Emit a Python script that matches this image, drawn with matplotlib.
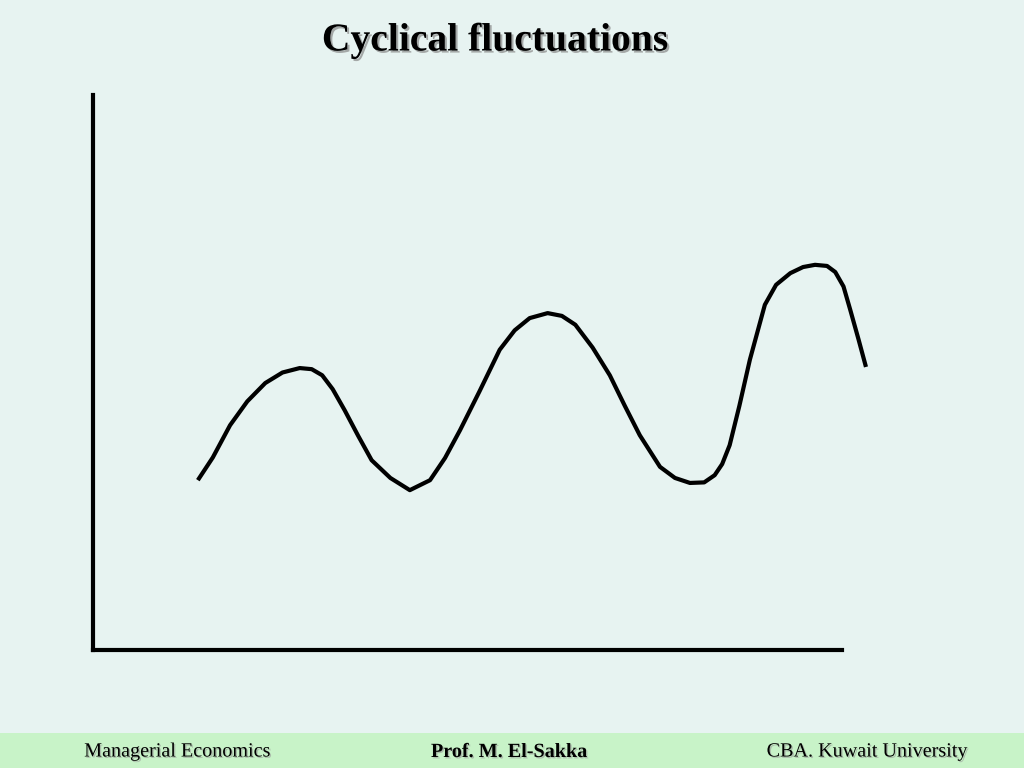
import matplotlib.pyplot as plt
import matplotlib.patheffects as pe
from matplotlib.patches import Rectangle

# curve (x, y in percent of the axis box)
cycle_x = [14.0, 16.0, 18.3, 20.6, 23.0, 25.3, 27.6, 29.2, 30.6, 32.0, 33.6, 35.4,
           37.2, 39.7, 42.3, 45.0, 47.0, 49.0, 51.6, 54.3, 56.3, 58.3, 60.7, 62.6,
           64.4, 66.7, 69.0, 71.0, 73.0, 75.7, 77.7, 79.7, 81.6, 83.0, 84.0, 85.0,
           86.3, 87.7, 89.7, 91.2, 93.1, 94.8, 96.4, 98.0, 99.1, 100.2, 101.1, 102.2, 103.2]
cycle_y = [30.6, 34.7, 40.5, 44.8, 48.1, 50.0, 50.8, 50.6, 49.5, 47.0, 43.2, 38.6,
           34.2, 31.0, 28.8, 30.6, 34.6, 39.6, 46.6, 54.1, 57.6, 59.8, 60.7, 60.2,
           58.6, 54.5, 49.5, 44.0, 38.7, 33.0, 31.0, 30.1, 30.2, 31.5, 33.5, 36.9,
           44.0, 52.3, 62.2, 65.8, 67.9, 69.0, 69.4, 69.2, 68.1, 65.5, 61.3, 56.0, 51.0]

title = "Cyclical fluctuations"
footer_left = "Managerial Economics"
footer_mid = "Prof. M. El-Sakka"
footer_right = "CBA. Kuwait University"

bg = "#e7f3f1"
band = "#c8f3c8"

fig = plt.figure(figsize=(10.24, 7.68), dpi=100)
fig.patch.set_facecolor(bg)

# footer band
fig.patches.append(Rectangle((0, 0), 1, 35 / 768, transform=fig.transFigure,
                             facecolor=band, edgecolor="none", zorder=0))

ax = fig.add_axes([93 / 1024, 118 / 768, 749 / 1024, 555 / 768])
ax.set_facecolor("none")
ax.plot(cycle_x, cycle_y, color="black", lw=3, solid_joinstyle="round",
        solid_capstyle="butt", clip_on=False)
ax.set_xlim(0, 100)
ax.set_ylim(0, 100)
for side in ["top", "right"]:
    ax.spines[side].set_visible(False)
for side in ["left", "bottom"]:
    ax.spines[side].set_linewidth(3)
ax.set_xticks([])
ax.set_yticks([])

shadow = [pe.SimplePatchShadow(offset=(1.5, -1.5), shadow_rgbFace="#888888", alpha=0.7), pe.Normal()]
fig.text(495 / 1024, 1 - 41 / 768, title, ha="center", va="center",
         family="Liberation Serif", fontweight="bold", fontsize=28.5, path_effects=shadow)

small_shadow = [pe.SimplePatchShadow(offset=(1, -1), shadow_rgbFace="#999999", alpha=0.6), pe.Normal()]
fy = 1 - 752 / 768
fig.text(177 / 1024, fy, footer_left, ha="center", va="center",
         family="Liberation Serif", fontsize=14.5, path_effects=small_shadow)
fig.text(509 / 1024, fy, footer_mid, ha="center", va="center",
         family="Liberation Serif", fontweight="bold", fontsize=14.5, path_effects=small_shadow)
fig.text(867 / 1024, fy, footer_right, ha="center", va="center",
         family="Liberation Serif", fontsize=14.5, path_effects=small_shadow)

fig.savefig("out.png", dpi=100, facecolor=fig.get_facecolor())
